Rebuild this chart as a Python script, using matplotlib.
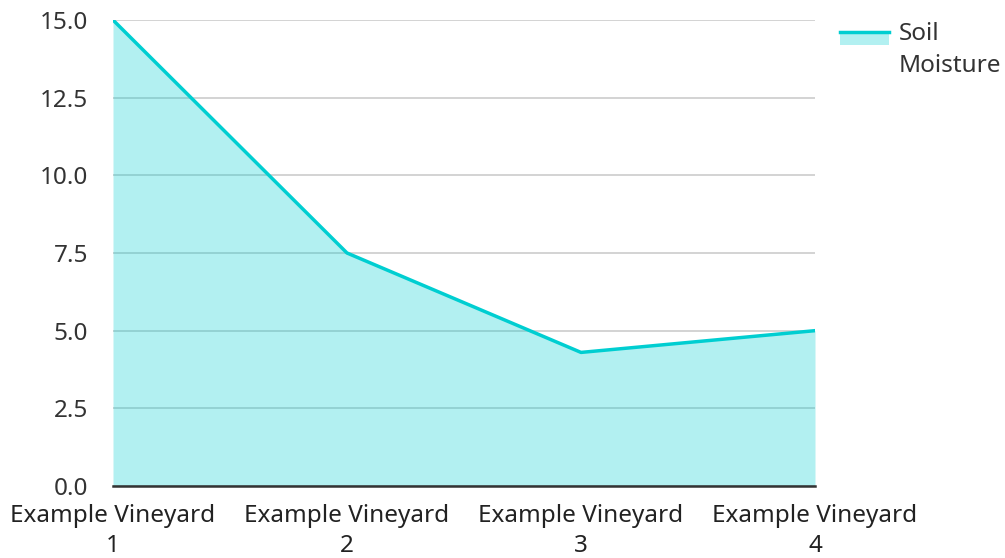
import matplotlib.pyplot as plt
from matplotlib.legend_handler import HandlerBase
from matplotlib.patches import Rectangle
from matplotlib.lines import Line2D

plt.rcParams['font.family'] = ['Noto Sans', 'DejaVu Sans']

categories = ["Example Vineyard\n1", "Example Vineyard\n2", "Example Vineyard\n3", "Example Vineyard\n4"]
soil_moisture = [15.0, 7.5, 4.3, 5.0]
yticks = [0.0, 2.5, 5.0, 7.5, 10.0, 12.5, 15.0]

LINE_C = "#00CED1"
FS = 17.5


class AreaHandler(HandlerBase):
    # line sitting on top of a filled box, like the reference legend
    def create_artists(self, legend, orig, xd, yd, w, h, fontsize, trans):
        top = yd + h * 0.62 + 12
        rect = Rectangle((xd, top - 9.5), w, 9.5, facecolor=LINE_C, alpha=0.3,
                         edgecolor="none", transform=trans)
        ln = Line2D([xd, xd + w], [top, top], color=LINE_C, lw=2.5, transform=trans)
        return [rect, ln]


fig = plt.figure(figsize=(10.05, 5.58), dpi=100)
ax = fig.add_axes([113 / 1005, 1 - 486 / 558, (815 - 113) / 1005, (486 - 20) / 558])

x = list(range(len(categories)))
ax.set_axisbelow(True)
ax.grid(axis="y", color="#cccccc", lw=1.2)
ax.fill_between(x, soil_moisture, 0, color=LINE_C, alpha=0.3, lw=0, zorder=2)
line, = ax.plot(x, soil_moisture, color=LINE_C, lw=2.5, zorder=3, label="Soil\nMoisture")

ax.set_xlim(0, 3)
ax.set_ylim(0, 15)
ax.set_xticks(x)
ax.set_xticklabels(categories, fontsize=FS, color="#222222", linespacing=1.34)
ax.set_yticks(yticks)
ax.set_yticklabels([f"{v:.1f}" for v in yticks], fontsize=FS, color="#333333")
ax.tick_params(length=0)
ax.tick_params(axis="y", pad=18)
ax.tick_params(axis="x", pad=13)
for s in ["left", "right", "top"]:
    ax.spines[s].set_visible(False)
ax.spines["bottom"].set_color("#333333")
ax.spines["bottom"].set_linewidth(1.8)
ax.spines["bottom"].set_zorder(4)

leg = ax.legend([line], ["Soil\nMoisture"], handler_map={line: AreaHandler()},
                loc="upper left", bbox_to_anchor=(840 / 1005, 1 - 22 / 558),
                bbox_transform=fig.transFigure, frameon=False,
                handlelength=2.0, handletextpad=0.42, borderaxespad=0, borderpad=0,
                labelcolor="#333333", prop={"size": FS})
for t in leg.get_texts():
    t.set_linespacing(1.45)

fig.savefig("out.png", dpi=100)
